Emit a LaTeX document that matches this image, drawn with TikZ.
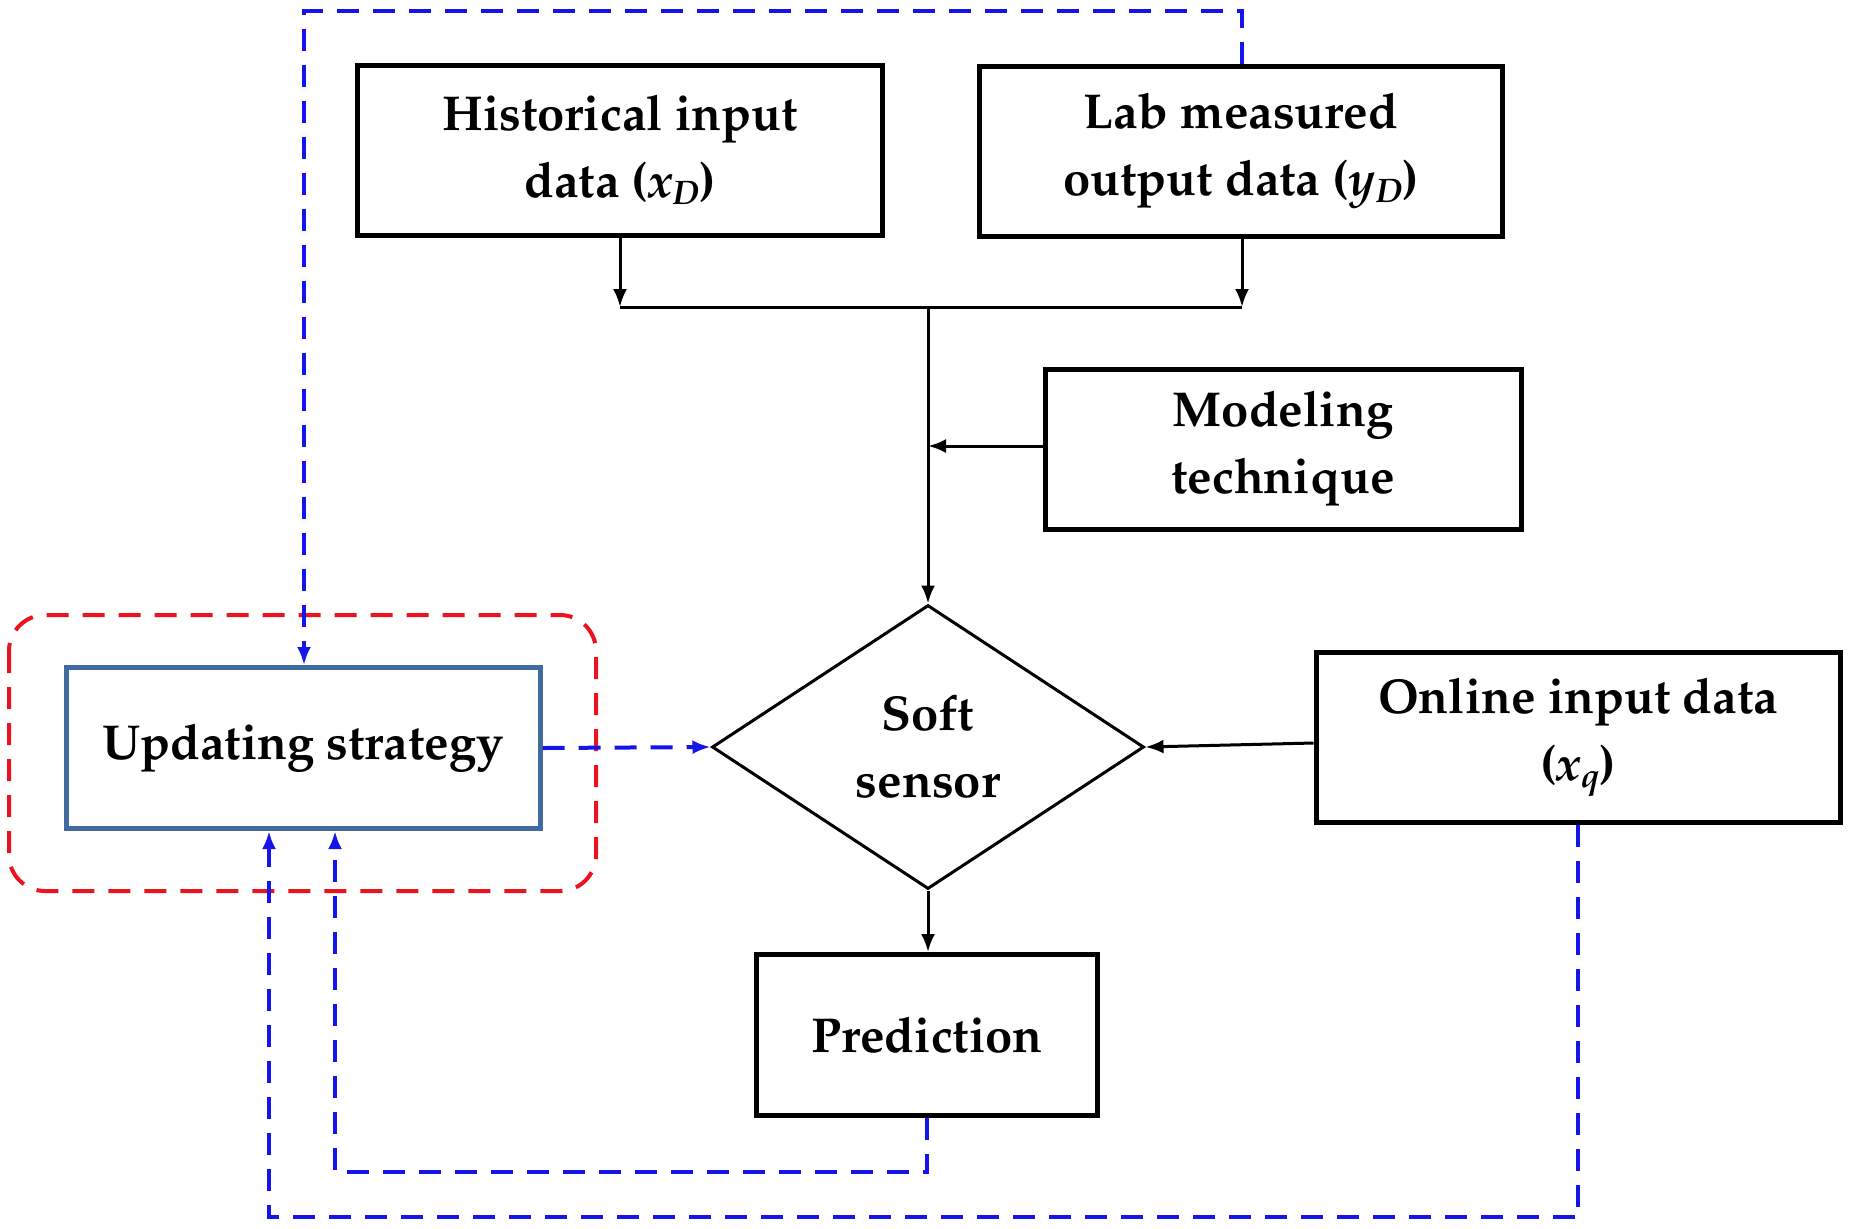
\documentclass[tikz,border=0pt]{standalone}
\usepackage[T1]{fontenc}
\usepackage{mathpazo}
\usetikzlibrary{shapes.geometric,arrows.meta,calc}
\definecolor{dblue}{RGB}{20,20,235}
\definecolor{sblue}{RGB}{65,107,158}
\definecolor{dred}{RGB}{235,20,30}
\newcommand{\myvar}[2]{\textit{#1}\raisebox{-0.3ex}{\fontsize{17}{17}\selectfont\textit{#2}}}
\tikzset{
  box/.style={draw=black,line width=2.5pt,rectangle,align=center,inner sep=0pt,
    font=\fontsize{24.5}{33.5}\selectfont\bfseries},
  arr/.style={draw=black,line width=1.5pt,-{Latex[length=9pt,width=7pt]}},
  plain/.style={draw=black,line width=1.5pt},
  bdash/.style={draw=dblue,line width=2pt,dash pattern=on 11pt off 7pt},
  barr/.style={bdash,-{Latex[length=9pt,width=7pt]}},
}
\begin{document}
\begin{tikzpicture}[x=0.5pt,y=-0.5pt]
\useasboundingbox (0,0) rectangle (1850,1228);
% red dashed rounded frame
\draw[draw=dred,line width=2pt,dash pattern=on 11pt off 7pt,rounded corners=18pt] (9,615) rectangle (596,891);
% nodes
\node[box,minimum width=262.5pt,minimum height=85pt] (hist) at (620,150) {Historical input\\data (\myvar{x}{D})};
\node[box,minimum width=261.5pt,minimum height=85pt] (lab) at (1241,151) {Lab measured\\output data (\myvar{y}{D})};
\node[box,minimum width=238pt,minimum height=80pt] (model) at (1283,449) {Modeling\\technique};
\node[box,draw=sblue,minimum width=237pt,minimum height=80.5pt] (upd) at (303,748) {Updating strategy};
\node[box,minimum width=262pt,minimum height=85pt] (online) at (1578,737) {Online input data\\(\myvar{x}{q})};
\node[box,minimum width=170.5pt,minimum height=80.5pt] (pred) at (927,1035) {Prediction};
\node[draw=black,line width=1.5pt,diamond,aspect=1.52,minimum width=216pt,minimum height=142pt,inner sep=0pt,align=center,
  font=\fontsize{24.5}{33.5}\selectfont\bfseries] (ss) at (928,747) {Soft\\sensor};
% junction coordinates
\coordinate (jl) at (620,307);
\coordinate (jr) at (1242,307);
\coordinate (jm) at (928,307);
\coordinate (jmod) at (928,446);
% black connectors
\draw[arr] (hist.south -| jl) -- (jl);
\draw[arr] (lab.south -| jr) -- (jr);
\draw[plain] (jl) -- (jr);
\draw[arr] (jm) -- (ss.north);
\draw[arr] (model.west |- jmod) -- (jmod);
\draw[arr] ($(online.west)+(0,6)$) -- (ss.east);
\draw[arr] (ss.south) -- (pred.north -| ss.south);
% blue dashed connectors
\coordinate (t1) at (1242,11);
\coordinate (t2) at (304,11);
\draw[barr] (lab.north -| t1) -- (t1) -- (t2) -- (upd.north -| t2);
\draw[barr] (upd.east) -- (ss.west);
\coordinate (b1) at (927,1172);
\coordinate (b2) at (335,1172);
\draw[barr] (pred.south) -- (b1) -- (b2) -- (upd.south -| b2);
\coordinate (c1) at (1578,1217);
\coordinate (c2) at (269,1217);
\draw[barr] (online.south) -- (c1) -- (c2) -- (upd.south -| c2);
\end{tikzpicture}
\end{document}
